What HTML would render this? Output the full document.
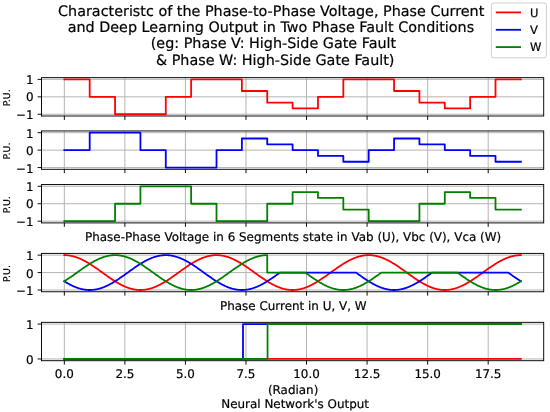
<!DOCTYPE html>
<html><head><meta charset="utf-8"><style>
html,body{margin:0;padding:0;background:#fff;}
svg{display:block;}
text{font-family:"DejaVu Sans","Liberation Sans",sans-serif;fill:#000;text-rendering:geometricPrecision;stroke:#000;stroke-width:0.2px;}
.tk{font-size:11.9px;}
.tt{font-size:14.35px;}
.xl{font-size:11.95px;}
.pu{font-size:9.4px;}
.lg{font-size:11.5px;}
</style></head><body>
<svg width="550" height="412" viewBox="0 0 550 412">
<rect width="550" height="412" fill="#fff"/>
<clipPath id="c0"><rect x="41.5" y="77.65" width="502.2" height="38.35"/></clipPath>
<path d="M64.33 77.65 V116 M124.88 77.65 V116 M185.43 77.65 V116 M245.98 77.65 V116 M306.53 77.65 V116 M367.08 77.65 V116 M427.63 77.65 V116 M488.19 77.65 V116 M41.5 114.26 H543.7 M41.5 96.83 H543.7 M41.5 79.39 H543.7" stroke="#b0b0b0" stroke-width="0.95" fill="none"/>
<g clip-path="url(#c0)">
<path d="M64.33 79.39 L89.69 79.39 L89.69 96.83 L115.05 96.83 L115.05 114.26 L140.42 114.26 L140.42 114.26 L165.78 114.26 L165.78 96.83 L191.15 96.83 L191.15 79.39 L216.51 79.39 L216.51 79.39 L241.87 79.39 L241.87 91.01 L267.24 91.01 L267.24 102.64 L292.6 102.64 L292.6 108.45 L317.96 108.45 L317.96 96.83 L343.33 96.83 L343.33 79.39 L368.69 79.39 L368.69 79.39 L394.05 79.39 L394.05 91.01 L419.42 91.01 L419.42 102.64 L444.78 102.64 L444.78 108.45 L470.15 108.45 L470.15 96.83 L495.51 96.83 L495.51 79.39 L520.87 79.39" fill="none" stroke="#ff0000" stroke-width="1.8" stroke-linejoin="round" stroke-linecap="square"/>
</g>
<rect x="41.5" y="77.65" width="502.2" height="38.35" fill="none" stroke="#000" stroke-width="0.95"/>
<path d="M64.33 116 v3.9 M124.88 116 v3.9 M185.43 116 v3.9 M245.98 116 v3.9 M306.53 116 v3.9 M367.08 116 v3.9 M427.63 116 v3.9 M488.19 116 v3.9 M41.5 114.26 h-3.9 M41.5 96.83 h-3.9 M41.5 79.39 h-3.9" stroke="#000" stroke-width="0.95" fill="none"/>
<text x="33.6" y="118.56" text-anchor="end" class="tk">−1</text>
<text x="33.6" y="101.12" text-anchor="end" class="tk">0</text>
<text x="33.6" y="83.69" text-anchor="end" class="tk">1</text>
<text transform="translate(10 97.83) rotate(-90)" text-anchor="middle" class="pu">P.U.</text>
<clipPath id="c1"><rect x="41.5" y="130.95" width="502.2" height="38.35"/></clipPath>
<path d="M64.33 130.95 V169.3 M124.88 130.95 V169.3 M185.43 130.95 V169.3 M245.98 130.95 V169.3 M306.53 130.95 V169.3 M367.08 130.95 V169.3 M427.63 130.95 V169.3 M488.19 130.95 V169.3 M41.5 167.56 H543.7 M41.5 150.12 H543.7 M41.5 132.69 H543.7" stroke="#b0b0b0" stroke-width="0.95" fill="none"/>
<g clip-path="url(#c1)">
<path d="M64.33 150.12 L89.69 150.12 L89.69 132.69 L115.05 132.69 L115.05 132.69 L140.42 132.69 L140.42 150.12 L165.78 150.12 L165.78 167.56 L191.15 167.56 L191.15 167.56 L216.51 167.56 L216.51 150.12 L241.87 150.12 L241.87 138.5 L267.24 138.5 L267.24 144.31 L292.6 144.31 L292.6 150.12 L317.96 150.12 L317.96 155.94 L343.33 155.94 L343.33 161.75 L368.69 161.75 L368.69 150.12 L394.05 150.12 L394.05 138.5 L419.42 138.5 L419.42 144.31 L444.78 144.31 L444.78 150.12 L470.15 150.12 L470.15 155.94 L495.51 155.94 L495.51 161.75 L520.87 161.75" fill="none" stroke="#0000ff" stroke-width="1.8" stroke-linejoin="round" stroke-linecap="square"/>
</g>
<rect x="41.5" y="130.95" width="502.2" height="38.35" fill="none" stroke="#000" stroke-width="0.95"/>
<path d="M64.33 169.3 v3.9 M124.88 169.3 v3.9 M185.43 169.3 v3.9 M245.98 169.3 v3.9 M306.53 169.3 v3.9 M367.08 169.3 v3.9 M427.63 169.3 v3.9 M488.19 169.3 v3.9 M41.5 167.56 h-3.9 M41.5 150.12 h-3.9 M41.5 132.69 h-3.9" stroke="#000" stroke-width="0.95" fill="none"/>
<text x="33.6" y="172.66" text-anchor="end" class="tk">−1</text>
<text x="33.6" y="155.23" text-anchor="end" class="tk">0</text>
<text x="33.6" y="137.79" text-anchor="end" class="tk">1</text>
<text transform="translate(10 151.12) rotate(-90)" text-anchor="middle" class="pu">P.U.</text>
<clipPath id="c2"><rect x="41.5" y="184.55" width="502.2" height="38.35"/></clipPath>
<path d="M64.33 184.55 V222.9 M124.88 184.55 V222.9 M185.43 184.55 V222.9 M245.98 184.55 V222.9 M306.53 184.55 V222.9 M367.08 184.55 V222.9 M427.63 184.55 V222.9 M488.19 184.55 V222.9 M41.5 221.16 H543.7 M41.5 203.73 H543.7 M41.5 186.29 H543.7" stroke="#b0b0b0" stroke-width="0.95" fill="none"/>
<g clip-path="url(#c2)">
<path d="M64.33 221.16 L89.69 221.16 L89.69 221.16 L115.05 221.16 L115.05 203.73 L140.42 203.73 L140.42 186.29 L165.78 186.29 L165.78 186.29 L191.15 186.29 L191.15 203.73 L216.51 203.73 L216.51 221.16 L241.87 221.16 L241.87 221.16 L267.24 221.16 L267.24 203.73 L292.6 203.73 L292.6 192.1 L317.96 192.1 L317.96 197.91 L343.33 197.91 L343.33 209.54 L368.69 209.54 L368.69 221.16 L394.05 221.16 L394.05 221.16 L419.42 221.16 L419.42 203.73 L444.78 203.73 L444.78 192.1 L470.15 192.1 L470.15 197.91 L495.51 197.91 L495.51 209.54 L520.87 209.54" fill="none" stroke="#008000" stroke-width="1.8" stroke-linejoin="round" stroke-linecap="square"/>
</g>
<rect x="41.5" y="184.55" width="502.2" height="38.35" fill="none" stroke="#000" stroke-width="0.95"/>
<path d="M64.33 222.9 v3.9 M124.88 222.9 v3.9 M185.43 222.9 v3.9 M245.98 222.9 v3.9 M306.53 222.9 v3.9 M367.08 222.9 v3.9 M427.63 222.9 v3.9 M488.19 222.9 v3.9 M41.5 221.16 h-3.9 M41.5 203.73 h-3.9 M41.5 186.29 h-3.9" stroke="#000" stroke-width="0.95" fill="none"/>
<text x="33.6" y="225.76" text-anchor="end" class="tk">−1</text>
<text x="33.6" y="208.33" text-anchor="end" class="tk">0</text>
<text x="33.6" y="190.89" text-anchor="end" class="tk">1</text>
<text transform="translate(10 204.73) rotate(-90)" text-anchor="middle" class="pu">P.U.</text>
<clipPath id="c3"><rect x="41.5" y="253.4" width="502.2" height="38.35"/></clipPath>
<path d="M64.33 253.4 V291.75 M124.88 253.4 V291.75 M185.43 253.4 V291.75 M245.98 253.4 V291.75 M306.53 253.4 V291.75 M367.08 253.4 V291.75 M427.63 253.4 V291.75 M488.19 253.4 V291.75 M41.5 290.01 H543.7 M41.5 272.57 H543.7 M41.5 255.14 H543.7" stroke="#b0b0b0" stroke-width="0.95" fill="none"/>
<g clip-path="url(#c3)">
<path d="M64.33 255.14 L64.71 255.15 L65.09 255.15 L65.47 255.16 L65.85 255.18 L66.23 255.2 L66.61 255.22 L66.99 255.25 L67.37 255.28 L67.75 255.32 L68.13 255.36 L68.52 255.4 L68.9 255.45 L69.28 255.51 L69.66 255.56 L70.04 255.63 L70.42 255.69 L70.8 255.76 L71.18 255.84 L71.56 255.92 L71.94 256 L72.32 256.08 L72.7 256.18 L73.09 256.27 L73.47 256.37 L73.85 256.47 L74.23 256.58 L74.61 256.69 L74.99 256.8 L75.37 256.92 L75.75 257.05 L76.13 257.17 L76.51 257.3 L76.89 257.44 L77.27 257.57 L77.65 257.72 L78.04 257.86 L78.42 258.01 L78.8 258.16 L79.18 258.32 L79.56 258.48 L79.94 258.64 L80.32 258.81 L80.7 258.98 L81.08 259.15 L81.46 259.33 L81.84 259.51 L82.22 259.69 L82.6 259.88 L82.99 260.06 L83.37 260.26 L83.75 260.45 L84.13 260.65 L84.51 260.85 L84.89 261.06 L85.27 261.26 L85.65 261.47 L86.03 261.69 L86.41 261.9 L86.79 262.12 L87.17 262.34 L87.55 262.56 L87.94 262.79 L88.32 263.02 L88.7 263.25 L89.08 263.48 L89.46 263.71 L89.84 263.95 L90.22 264.19 L90.6 264.43 L90.98 264.68 L91.36 264.92 L91.74 265.17 L92.12 265.42 L92.5 265.67 L92.89 265.92 L93.27 266.17 L93.65 266.43 L94.03 266.69 L94.41 266.95 L94.79 267.21 L95.17 267.47 L95.55 267.73 L95.93 267.99 L96.31 268.26 L96.69 268.52 L97.07 268.79 L97.45 269.06 L97.84 269.33 L98.22 269.6 L98.6 269.87 L98.98 270.14 L99.36 270.41 L99.74 270.68 L100.12 270.96 L100.5 271.23 L100.88 271.5 L101.26 271.78 L101.64 272.05 L102.02 272.32 L102.4 272.6 L102.79 272.87 L103.17 273.15 L103.55 273.42 L103.93 273.69 L104.31 273.97 L104.69 274.24 L105.07 274.51 L105.45 274.78 L105.83 275.06 L106.21 275.33 L106.59 275.6 L106.97 275.87 L107.35 276.14 L107.74 276.4 L108.12 276.67 L108.5 276.94 L108.88 277.2 L109.26 277.46 L109.64 277.73 L110.02 277.99 L110.4 278.25 L110.78 278.51 L111.16 278.76 L111.54 279.02 L111.92 279.27 L112.3 279.52 L112.69 279.77 L113.07 280.02 L113.45 280.27 L113.83 280.52 L114.21 280.76 L114.59 281 L114.97 281.24 L115.35 281.47 L115.73 281.71 L116.11 281.94 L116.49 282.17 L116.87 282.4 L117.25 282.62 L117.64 282.85 L118.02 283.07 L118.4 283.28 L118.78 283.5 L119.16 283.71 L119.54 283.92 L119.92 284.13 L120.3 284.33 L120.68 284.53 L121.06 284.73 L121.44 284.93 L121.82 285.12 L122.2 285.31 L122.59 285.49 L122.97 285.67 L123.35 285.85 L123.73 286.03 L124.11 286.2 L124.49 286.37 L124.87 286.54 L125.25 286.7 L125.63 286.86 L126.01 287.01 L126.39 287.17 L126.77 287.31 L127.15 287.46 L127.54 287.6 L127.92 287.74 L128.3 287.87 L128.68 288 L129.06 288.12 L129.44 288.25 L129.82 288.36 L130.2 288.48 L130.58 288.59 L130.96 288.7 L131.34 288.8 L131.72 288.9 L132.1 288.99 L132.49 289.08 L132.87 289.17 L133.25 289.25 L133.63 289.33 L134.01 289.4 L134.39 289.47 L134.77 289.53 L135.15 289.6 L135.53 289.65 L135.91 289.71 L136.29 289.75 L136.67 289.8 L137.05 289.84 L137.44 289.87 L137.82 289.91 L138.2 289.93 L138.58 289.96 L138.96 289.98 L139.34 289.99 L139.72 290 L140.1 290.01 L140.48 290.01 L140.86 290 L141.24 290 L141.62 289.99 L142 289.97 L142.39 289.95 L142.77 289.92 L143.15 289.9 L143.53 289.86 L143.91 289.83 L144.29 289.78 L144.67 289.74 L145.05 289.69 L145.43 289.63 L145.81 289.58 L146.19 289.51 L146.57 289.45 L146.95 289.38 L147.34 289.3 L147.72 289.22 L148.1 289.14 L148.48 289.05 L148.86 288.96 L149.24 288.86 L149.62 288.76 L150 288.66 L150.38 288.55 L150.76 288.44 L151.14 288.33 L151.52 288.21 L151.9 288.08 L152.29 287.96 L152.67 287.83 L153.05 287.69 L153.43 287.55 L153.81 287.41 L154.19 287.26 L154.57 287.11 L154.95 286.96 L155.33 286.81 L155.71 286.65 L156.09 286.48 L156.47 286.31 L156.85 286.14 L157.24 285.97 L157.62 285.79 L158 285.61 L158.38 285.43 L158.76 285.24 L159.14 285.05 L159.52 284.86 L159.9 284.66 L160.28 284.47 L160.66 284.26 L161.04 284.06 L161.42 283.85 L161.8 283.64 L162.19 283.43 L162.57 283.21 L162.95 282.99 L163.33 282.77 L163.71 282.55 L164.09 282.32 L164.47 282.1 L164.85 281.86 L165.23 281.63 L165.61 281.4 L165.99 281.16 L166.37 280.92 L166.75 280.68 L167.14 280.43 L167.52 280.19 L167.9 279.94 L168.28 279.69 L168.66 279.44 L169.04 279.19 L169.42 278.93 L169.8 278.68 L170.18 278.42 L170.56 278.16 L170.94 277.9 L171.32 277.64 L171.7 277.38 L172.09 277.11 L172.47 276.85 L172.85 276.58 L173.23 276.31 L173.61 276.05 L173.99 275.78 L174.37 275.51 L174.75 275.24 L175.13 274.97 L175.51 274.69 L175.89 274.42 L176.27 274.15 L176.65 273.88 L177.04 273.6 L177.42 273.33 L177.8 273.05 L178.18 272.78 L178.56 272.51 L178.94 272.23 L179.32 271.96 L179.7 271.68 L180.08 271.41 L180.46 271.14 L180.84 270.86 L181.22 270.59 L181.61 270.32 L181.99 270.05 L182.37 269.78 L182.75 269.51 L183.13 269.24 L183.51 268.97 L183.89 268.7 L184.27 268.44 L184.65 268.17 L185.03 267.91 L185.41 267.64 L185.79 267.38 L186.17 267.12 L186.56 266.86 L186.94 266.6 L187.32 266.34 L187.7 266.09 L188.08 265.84 L188.46 265.58 L188.84 265.33 L189.22 265.09 L189.6 264.84 L189.98 264.59 L190.36 264.35 L190.74 264.11 L191.12 263.87 L191.51 263.64 L191.89 263.4 L192.27 263.17 L192.65 262.94 L193.03 262.71 L193.41 262.49 L193.79 262.27 L194.17 262.05 L194.55 261.83 L194.93 261.61 L195.31 261.4 L195.69 261.19 L196.07 260.99 L196.46 260.78 L196.84 260.58 L197.22 260.39 L197.6 260.19 L197.98 260 L198.36 259.81 L198.74 259.63 L199.12 259.45 L199.5 259.27 L199.88 259.09 L200.26 258.92 L200.64 258.75 L201.02 258.59 L201.41 258.42 L201.79 258.27 L202.17 258.11 L202.55 257.96 L202.93 257.81 L203.31 257.67 L203.69 257.53 L204.07 257.39 L204.45 257.26 L204.83 257.13 L205.21 257 L205.59 256.88 L205.97 256.77 L206.36 256.65 L206.74 256.54 L207.12 256.44 L207.5 256.34 L207.88 256.24 L208.26 256.14 L208.64 256.06 L209.02 255.97 L209.4 255.89 L209.78 255.81 L210.16 255.74 L210.54 255.67 L210.92 255.6 L211.31 255.54 L211.69 255.49 L212.07 255.44 L212.45 255.39 L212.83 255.34 L213.21 255.3 L213.59 255.27 L213.97 255.24 L214.35 255.21 L214.73 255.19 L215.11 255.17 L215.49 255.16 L215.87 255.15 L216.26 255.14 L216.64 255.14 L217.02 255.15 L217.4 255.15 L217.78 255.17 L218.16 255.18 L218.54 255.2 L218.92 255.23 L219.3 255.26 L219.68 255.29 L220.06 255.33 L220.44 255.37 L220.82 255.42 L221.21 255.47 L221.59 255.52 L221.97 255.58 L222.35 255.65 L222.73 255.71 L223.11 255.79 L223.49 255.86 L223.87 255.94 L224.25 256.03 L224.63 256.11 L225.01 256.21 L225.39 256.3 L225.77 256.4 L226.16 256.51 L226.54 256.62 L226.92 256.73 L227.3 256.84 L227.68 256.96 L228.06 257.09 L228.44 257.22 L228.82 257.35 L229.2 257.48 L229.58 257.62 L229.96 257.76 L230.34 257.91 L230.72 258.06 L231.11 258.21 L231.49 258.37 L231.87 258.53 L232.25 258.7 L232.63 258.86 L233.01 259.03 L233.39 259.21 L233.77 259.39 L234.15 259.57 L234.53 259.75 L234.91 259.94 L235.29 260.13 L235.67 260.32 L236.06 260.52 L236.44 260.72 L236.82 260.92 L237.2 261.13 L237.58 261.33 L237.96 261.54 L238.34 261.76 L238.72 261.97 L239.1 262.19 L239.48 262.41 L239.86 262.64 L240.24 262.86 L240.62 263.09 L241.01 263.32 L241.39 263.56 L241.77 263.79 L242.15 264.03 L242.53 264.27 L242.91 264.51 L243.29 264.76 L243.67 265 L244.05 265.25 L244.43 265.5 L244.81 265.75 L245.19 266 L245.57 266.26 L245.96 266.52 L246.34 266.77 L246.72 267.03 L247.1 267.29 L247.48 267.55 L247.86 267.82 L248.24 268.08 L248.62 268.35 L249 268.61 L249.38 268.88 L249.76 269.15 L250.14 269.42 L250.52 269.69 L250.91 269.96 L251.29 270.23 L251.67 270.5 L252.05 270.77 L252.43 271.05 L252.81 271.32 L253.19 271.59 L253.57 271.87 L253.95 272.14 L254.33 272.42 L254.71 272.69 L255.09 272.96 L255.47 273.24 L255.86 273.51 L256.24 273.78 L256.62 274.06 L257 274.33 L257.38 274.6 L257.76 274.87 L258.14 275.15 L258.52 275.42 L258.9 275.69 L259.28 275.96 L259.66 276.22 L260.04 276.49 L260.42 276.76 L260.81 277.02 L261.19 277.29 L261.57 277.55 L261.95 277.81 L262.33 278.07 L262.71 278.33 L263.09 278.59 L263.47 278.85 L263.85 279.1 L264.23 279.36 L264.61 279.61 L264.99 279.86 L265.37 280.11 L265.76 280.35 L266.14 280.6 L266.52 280.84 L266.9 281.08 L267.28 281.32 L267.66 281.55 L268.04 281.79 L268.42 282.02 L268.8 282.25 L269.18 282.47 L269.56 282.7 L269.94 282.92 L270.32 283.14 L270.71 283.36 L271.09 283.57 L271.47 283.78 L271.85 283.99 L272.23 284.2 L272.61 284.4 L272.99 284.6 L273.37 284.8 L273.75 284.99 L274.13 285.18 L274.51 285.37 L274.89 285.55 L275.27 285.73 L275.66 285.91 L276.04 286.09 L276.42 286.26 L276.8 286.43 L277.18 286.59 L277.56 286.75 L277.94 286.91 L278.32 287.06 L278.7 287.21 L279.08 287.36 L279.46 287.51 L279.84 287.64 L280.22 287.78 L280.61 287.91 L280.99 288.04 L281.37 288.17 L281.75 288.29 L282.13 288.4 L282.51 288.52 L282.89 288.62 L283.27 288.73 L283.65 288.83 L284.03 288.93 L284.41 289.02 L284.79 289.11 L285.17 289.19 L285.56 289.27 L285.94 289.35 L286.32 289.42 L286.7 289.49 L287.08 289.56 L287.46 289.62 L287.84 289.67 L288.22 289.72 L288.6 289.77 L288.98 289.81 L289.36 289.85 L289.74 289.89 L290.12 289.92 L290.51 289.94 L290.89 289.96 L291.27 289.98 L291.65 289.99 L292.03 290 L292.41 290.01 L292.79 290.01 L293.17 290 L293.55 289.99 L293.93 289.98 L294.31 289.96 L294.69 289.94 L295.08 289.92 L295.46 289.89 L295.84 289.85 L296.22 289.81 L296.6 289.77 L296.98 289.72 L297.36 289.67 L297.74 289.62 L298.12 289.56 L298.5 289.49 L298.88 289.42 L299.26 289.35 L299.64 289.27 L300.03 289.19 L300.41 289.11 L300.79 289.02 L301.17 288.93 L301.55 288.83 L301.93 288.73 L302.31 288.62 L302.69 288.52 L303.07 288.4 L303.45 288.29 L303.83 288.17 L304.21 288.04 L304.59 287.91 L304.98 287.78 L305.36 287.64 L305.74 287.51 L306.12 287.36 L306.5 287.21 L306.88 287.06 L307.26 286.91 L307.64 286.75 L308.02 286.59 L308.4 286.43 L308.78 286.26 L309.16 286.09 L309.54 285.91 L309.93 285.73 L310.31 285.55 L310.69 285.37 L311.07 285.18 L311.45 284.99 L311.83 284.8 L312.21 284.6 L312.59 284.4 L312.97 284.2 L313.35 283.99 L313.73 283.78 L314.11 283.57 L314.49 283.36 L314.88 283.14 L315.26 282.92 L315.64 282.7 L316.02 282.47 L316.4 282.25 L316.78 282.02 L317.16 281.79 L317.54 281.55 L317.92 281.32 L318.3 281.08 L318.68 280.84 L319.06 280.6 L319.44 280.35 L319.83 280.11 L320.21 279.86 L320.59 279.61 L320.97 279.36 L321.35 279.1 L321.73 278.85 L322.11 278.59 L322.49 278.33 L322.87 278.07 L323.25 277.81 L323.63 277.55 L324.01 277.29 L324.39 277.02 L324.78 276.76 L325.16 276.49 L325.54 276.22 L325.92 275.96 L326.3 275.69 L326.68 275.42 L327.06 275.15 L327.44 274.87 L327.82 274.6 L328.2 274.33 L328.58 274.06 L328.96 273.78 L329.34 273.51 L329.73 273.24 L330.11 272.96 L330.49 272.69 L330.87 272.42 L331.25 272.14 L331.63 271.87 L332.01 271.59 L332.39 271.32 L332.77 271.05 L333.15 270.77 L333.53 270.5 L333.91 270.23 L334.29 269.96 L334.68 269.69 L335.06 269.42 L335.44 269.15 L335.82 268.88 L336.2 268.61 L336.58 268.35 L336.96 268.08 L337.34 267.82 L337.72 267.55 L338.1 267.29 L338.48 267.03 L338.86 266.77 L339.24 266.52 L339.63 266.26 L340.01 266 L340.39 265.75 L340.77 265.5 L341.15 265.25 L341.53 265 L341.91 264.76 L342.29 264.51 L342.67 264.27 L343.05 264.03 L343.43 263.79 L343.81 263.56 L344.19 263.32 L344.58 263.09 L344.96 262.86 L345.34 262.64 L345.72 262.41 L346.1 262.19 L346.48 261.97 L346.86 261.76 L347.24 261.54 L347.62 261.33 L348 261.13 L348.38 260.92 L348.76 260.72 L349.14 260.52 L349.53 260.32 L349.91 260.13 L350.29 259.94 L350.67 259.75 L351.05 259.57 L351.43 259.39 L351.81 259.21 L352.19 259.03 L352.57 258.86 L352.95 258.7 L353.33 258.53 L353.71 258.37 L354.09 258.21 L354.48 258.06 L354.86 257.91 L355.24 257.76 L355.62 257.62 L356 257.48 L356.38 257.35 L356.76 257.22 L357.14 257.09 L357.52 256.96 L357.9 256.84 L358.28 256.73 L358.66 256.62 L359.04 256.51 L359.43 256.4 L359.81 256.3 L360.19 256.21 L360.57 256.11 L360.95 256.03 L361.33 255.94 L361.71 255.86 L362.09 255.79 L362.47 255.71 L362.85 255.65 L363.23 255.58 L363.61 255.52 L363.99 255.47 L364.38 255.42 L364.76 255.37 L365.14 255.33 L365.52 255.29 L365.9 255.26 L366.28 255.23 L366.66 255.2 L367.04 255.18 L367.42 255.17 L367.8 255.15 L368.18 255.15 L368.56 255.14 L368.94 255.14 L369.33 255.15 L369.71 255.16 L370.09 255.17 L370.47 255.19 L370.85 255.21 L371.23 255.24 L371.61 255.27 L371.99 255.3 L372.37 255.34 L372.75 255.39 L373.13 255.44 L373.51 255.49 L373.89 255.54 L374.28 255.6 L374.66 255.67 L375.04 255.74 L375.42 255.81 L375.8 255.89 L376.18 255.97 L376.56 256.06 L376.94 256.14 L377.32 256.24 L377.7 256.34 L378.08 256.44 L378.46 256.54 L378.84 256.65 L379.23 256.77 L379.61 256.88 L379.99 257 L380.37 257.13 L380.75 257.26 L381.13 257.39 L381.51 257.53 L381.89 257.67 L382.27 257.81 L382.65 257.96 L383.03 258.11 L383.41 258.27 L383.79 258.42 L384.18 258.59 L384.56 258.75 L384.94 258.92 L385.32 259.09 L385.7 259.27 L386.08 259.45 L386.46 259.63 L386.84 259.81 L387.22 260 L387.6 260.19 L387.98 260.39 L388.36 260.58 L388.74 260.78 L389.13 260.99 L389.51 261.19 L389.89 261.4 L390.27 261.61 L390.65 261.83 L391.03 262.05 L391.41 262.27 L391.79 262.49 L392.17 262.71 L392.55 262.94 L392.93 263.17 L393.31 263.4 L393.69 263.64 L394.08 263.87 L394.46 264.11 L394.84 264.35 L395.22 264.59 L395.6 264.84 L395.98 265.09 L396.36 265.33 L396.74 265.58 L397.12 265.84 L397.5 266.09 L397.88 266.34 L398.26 266.6 L398.64 266.86 L399.03 267.12 L399.41 267.38 L399.79 267.64 L400.17 267.91 L400.55 268.17 L400.93 268.44 L401.31 268.7 L401.69 268.97 L402.07 269.24 L402.45 269.51 L402.83 269.78 L403.21 270.05 L403.59 270.32 L403.98 270.59 L404.36 270.86 L404.74 271.14 L405.12 271.41 L405.5 271.68 L405.88 271.96 L406.26 272.23 L406.64 272.51 L407.02 272.78 L407.4 273.05 L407.78 273.33 L408.16 273.6 L408.55 273.88 L408.93 274.15 L409.31 274.42 L409.69 274.69 L410.07 274.97 L410.45 275.24 L410.83 275.51 L411.21 275.78 L411.59 276.05 L411.97 276.31 L412.35 276.58 L412.73 276.85 L413.11 277.11 L413.5 277.38 L413.88 277.64 L414.26 277.9 L414.64 278.16 L415.02 278.42 L415.4 278.68 L415.78 278.93 L416.16 279.19 L416.54 279.44 L416.92 279.69 L417.3 279.94 L417.68 280.19 L418.06 280.43 L418.45 280.68 L418.83 280.92 L419.21 281.16 L419.59 281.4 L419.97 281.63 L420.35 281.86 L420.73 282.1 L421.11 282.32 L421.49 282.55 L421.87 282.77 L422.25 282.99 L422.63 283.21 L423.01 283.43 L423.4 283.64 L423.78 283.85 L424.16 284.06 L424.54 284.26 L424.92 284.47 L425.3 284.66 L425.68 284.86 L426.06 285.05 L426.44 285.24 L426.82 285.43 L427.2 285.61 L427.58 285.79 L427.96 285.97 L428.35 286.14 L428.73 286.31 L429.11 286.48 L429.49 286.65 L429.87 286.81 L430.25 286.96 L430.63 287.11 L431.01 287.26 L431.39 287.41 L431.77 287.55 L432.15 287.69 L432.53 287.83 L432.91 287.96 L433.3 288.08 L433.68 288.21 L434.06 288.33 L434.44 288.44 L434.82 288.55 L435.2 288.66 L435.58 288.76 L435.96 288.86 L436.34 288.96 L436.72 289.05 L437.1 289.14 L437.48 289.22 L437.86 289.3 L438.25 289.38 L438.63 289.45 L439.01 289.51 L439.39 289.58 L439.77 289.63 L440.15 289.69 L440.53 289.74 L440.91 289.78 L441.29 289.83 L441.67 289.86 L442.05 289.9 L442.43 289.92 L442.81 289.95 L443.2 289.97 L443.58 289.99 L443.96 290 L444.34 290 L444.72 290.01 L445.1 290.01 L445.48 290 L445.86 289.99 L446.24 289.98 L446.62 289.96 L447 289.93 L447.38 289.91 L447.76 289.87 L448.15 289.84 L448.53 289.8 L448.91 289.75 L449.29 289.71 L449.67 289.65 L450.05 289.6 L450.43 289.53 L450.81 289.47 L451.19 289.4 L451.57 289.33 L451.95 289.25 L452.33 289.17 L452.71 289.08 L453.1 288.99 L453.48 288.9 L453.86 288.8 L454.24 288.7 L454.62 288.59 L455 288.48 L455.38 288.36 L455.76 288.25 L456.14 288.12 L456.52 288 L456.9 287.87 L457.28 287.74 L457.66 287.6 L458.05 287.46 L458.43 287.31 L458.81 287.17 L459.19 287.01 L459.57 286.86 L459.95 286.7 L460.33 286.54 L460.71 286.37 L461.09 286.2 L461.47 286.03 L461.85 285.85 L462.23 285.67 L462.61 285.49 L463 285.31 L463.38 285.12 L463.76 284.93 L464.14 284.73 L464.52 284.53 L464.9 284.33 L465.28 284.13 L465.66 283.92 L466.04 283.71 L466.42 283.5 L466.8 283.28 L467.18 283.07 L467.56 282.85 L467.95 282.62 L468.33 282.4 L468.71 282.17 L469.09 281.94 L469.47 281.71 L469.85 281.47 L470.23 281.24 L470.61 281 L470.99 280.76 L471.37 280.52 L471.75 280.27 L472.13 280.02 L472.51 279.77 L472.9 279.52 L473.28 279.27 L473.66 279.02 L474.04 278.76 L474.42 278.51 L474.8 278.25 L475.18 277.99 L475.56 277.73 L475.94 277.46 L476.32 277.2 L476.7 276.94 L477.08 276.67 L477.46 276.4 L477.85 276.14 L478.23 275.87 L478.61 275.6 L478.99 275.33 L479.37 275.06 L479.75 274.78 L480.13 274.51 L480.51 274.24 L480.89 273.97 L481.27 273.69 L481.65 273.42 L482.03 273.15 L482.41 272.87 L482.8 272.6 L483.18 272.32 L483.56 272.05 L483.94 271.78 L484.32 271.5 L484.7 271.23 L485.08 270.96 L485.46 270.68 L485.84 270.41 L486.22 270.14 L486.6 269.87 L486.98 269.6 L487.36 269.33 L487.75 269.06 L488.13 268.79 L488.51 268.52 L488.89 268.26 L489.27 267.99 L489.65 267.73 L490.03 267.47 L490.41 267.21 L490.79 266.95 L491.17 266.69 L491.55 266.43 L491.93 266.17 L492.31 265.92 L492.7 265.67 L493.08 265.42 L493.46 265.17 L493.84 264.92 L494.22 264.68 L494.6 264.43 L494.98 264.19 L495.36 263.95 L495.74 263.71 L496.12 263.48 L496.5 263.25 L496.88 263.02 L497.26 262.79 L497.65 262.56 L498.03 262.34 L498.41 262.12 L498.79 261.9 L499.17 261.69 L499.55 261.47 L499.93 261.26 L500.31 261.06 L500.69 260.85 L501.07 260.65 L501.45 260.45 L501.83 260.26 L502.21 260.06 L502.6 259.88 L502.98 259.69 L503.36 259.51 L503.74 259.33 L504.12 259.15 L504.5 258.98 L504.88 258.81 L505.26 258.64 L505.64 258.48 L506.02 258.32 L506.4 258.16 L506.78 258.01 L507.16 257.86 L507.55 257.72 L507.93 257.57 L508.31 257.44 L508.69 257.3 L509.07 257.17 L509.45 257.05 L509.83 256.92 L510.21 256.8 L510.59 256.69 L510.97 256.58 L511.35 256.47 L511.73 256.37 L512.11 256.27 L512.5 256.18 L512.88 256.08 L513.26 256 L513.64 255.92 L514.02 255.84 L514.4 255.76 L514.78 255.69 L515.16 255.63 L515.54 255.56 L515.92 255.51 L516.3 255.45 L516.68 255.4 L517.07 255.36 L517.45 255.32 L517.83 255.28 L518.21 255.25 L518.59 255.22 L518.97 255.2 L519.35 255.18 L519.73 255.16 L520.11 255.15 L520.49 255.15 L520.87 255.14" fill="none" stroke="#ff0000" stroke-width="1.8" stroke-linejoin="round" stroke-linecap="square"/>
<path d="M64.33 281.29 L64.71 281.53 L65.09 281.76 L65.47 281.99 L65.85 282.22 L66.23 282.45 L66.61 282.67 L66.99 282.9 L67.37 283.12 L67.75 283.33 L68.13 283.55 L68.52 283.76 L68.9 283.97 L69.28 284.17 L69.66 284.38 L70.04 284.58 L70.42 284.77 L70.8 284.97 L71.18 285.16 L71.56 285.35 L71.94 285.53 L72.32 285.71 L72.7 285.89 L73.09 286.07 L73.47 286.24 L73.85 286.41 L74.23 286.57 L74.61 286.73 L74.99 286.89 L75.37 287.05 L75.75 287.2 L76.13 287.35 L76.51 287.49 L76.89 287.63 L77.27 287.77 L77.65 287.9 L78.04 288.03 L78.42 288.15 L78.8 288.27 L79.18 288.39 L79.56 288.5 L79.94 288.61 L80.32 288.72 L80.7 288.82 L81.08 288.92 L81.46 289.01 L81.84 289.1 L82.22 289.18 L82.6 289.27 L82.99 289.34 L83.37 289.42 L83.75 289.48 L84.13 289.55 L84.51 289.61 L84.89 289.67 L85.27 289.72 L85.65 289.76 L86.03 289.81 L86.41 289.85 L86.79 289.88 L87.17 289.91 L87.55 289.94 L87.94 289.96 L88.32 289.98 L88.7 289.99 L89.08 290 L89.46 290.01 L89.84 290.01 L90.22 290 L90.6 289.99 L90.98 289.98 L91.36 289.97 L91.74 289.94 L92.12 289.92 L92.5 289.89 L92.89 289.86 L93.27 289.82 L93.65 289.77 L94.03 289.73 L94.41 289.68 L94.79 289.62 L95.17 289.56 L95.55 289.5 L95.93 289.43 L96.31 289.36 L96.69 289.28 L97.07 289.2 L97.45 289.12 L97.84 289.03 L98.22 288.94 L98.6 288.84 L98.98 288.74 L99.36 288.64 L99.74 288.53 L100.12 288.42 L100.5 288.3 L100.88 288.18 L101.26 288.06 L101.64 287.93 L102.02 287.8 L102.4 287.66 L102.79 287.52 L103.17 287.38 L103.55 287.23 L103.93 287.08 L104.31 286.93 L104.69 286.77 L105.07 286.61 L105.45 286.45 L105.83 286.28 L106.21 286.11 L106.59 285.93 L106.97 285.75 L107.35 285.57 L107.74 285.39 L108.12 285.2 L108.5 285.01 L108.88 284.82 L109.26 284.62 L109.64 284.42 L110.02 284.22 L110.4 284.01 L110.78 283.81 L111.16 283.59 L111.54 283.38 L111.92 283.16 L112.3 282.95 L112.69 282.72 L113.07 282.5 L113.45 282.27 L113.83 282.04 L114.21 281.81 L114.59 281.58 L114.97 281.34 L115.35 281.11 L115.73 280.87 L116.11 280.62 L116.49 280.38 L116.87 280.13 L117.25 279.89 L117.64 279.64 L118.02 279.38 L118.4 279.13 L118.78 278.88 L119.16 278.62 L119.54 278.36 L119.92 278.1 L120.3 277.84 L120.68 277.58 L121.06 277.32 L121.44 277.05 L121.82 276.79 L122.2 276.52 L122.59 276.25 L122.97 275.99 L123.35 275.72 L123.73 275.45 L124.11 275.18 L124.49 274.91 L124.87 274.63 L125.25 274.36 L125.63 274.09 L126.01 273.81 L126.39 273.54 L126.77 273.27 L127.15 272.99 L127.54 272.72 L127.92 272.45 L128.3 272.17 L128.68 271.9 L129.06 271.62 L129.44 271.35 L129.82 271.08 L130.2 270.8 L130.58 270.53 L130.96 270.26 L131.34 269.99 L131.72 269.72 L132.1 269.45 L132.49 269.18 L132.87 268.91 L133.25 268.64 L133.63 268.38 L134.01 268.11 L134.39 267.85 L134.77 267.58 L135.15 267.32 L135.53 267.06 L135.91 266.8 L136.29 266.54 L136.67 266.29 L137.05 266.03 L137.44 265.78 L137.82 265.53 L138.2 265.28 L138.58 265.03 L138.96 264.78 L139.34 264.54 L139.72 264.3 L140.1 264.06 L140.48 263.82 L140.86 263.58 L141.24 263.35 L141.62 263.12 L142 262.89 L142.39 262.66 L142.77 262.44 L143.15 262.22 L143.53 262 L143.91 261.78 L144.29 261.57 L144.67 261.36 L145.05 261.15 L145.43 260.94 L145.81 260.74 L146.19 260.54 L146.57 260.34 L146.95 260.15 L147.34 259.96 L147.72 259.77 L148.1 259.59 L148.48 259.41 L148.86 259.23 L149.24 259.05 L149.62 258.88 L150 258.71 L150.38 258.55 L150.76 258.39 L151.14 258.23 L151.52 258.08 L151.9 257.93 L152.29 257.78 L152.67 257.64 L153.05 257.5 L153.43 257.36 L153.81 257.23 L154.19 257.1 L154.57 256.98 L154.95 256.86 L155.33 256.74 L155.71 256.63 L156.09 256.52 L156.47 256.41 L156.85 256.31 L157.24 256.22 L157.62 256.12 L158 256.04 L158.38 255.95 L158.76 255.87 L159.14 255.79 L159.52 255.72 L159.9 255.65 L160.28 255.59 L160.66 255.53 L161.04 255.48 L161.42 255.42 L161.8 255.38 L162.19 255.33 L162.57 255.3 L162.95 255.26 L163.33 255.23 L163.71 255.21 L164.09 255.19 L164.47 255.17 L164.85 255.16 L165.23 255.15 L165.61 255.14 L165.99 255.14 L166.37 255.15 L166.75 255.16 L167.14 255.17 L167.52 255.19 L167.9 255.21 L168.28 255.24 L168.66 255.27 L169.04 255.3 L169.42 255.34 L169.8 255.38 L170.18 255.43 L170.56 255.48 L170.94 255.54 L171.32 255.6 L171.7 255.66 L172.09 255.73 L172.47 255.8 L172.85 255.88 L173.23 255.96 L173.61 256.05 L173.99 256.13 L174.37 256.23 L174.75 256.32 L175.13 256.43 L175.51 256.53 L175.89 256.64 L176.27 256.75 L176.65 256.87 L177.04 256.99 L177.42 257.12 L177.8 257.24 L178.18 257.38 L178.56 257.51 L178.94 257.65 L179.32 257.8 L179.7 257.94 L180.08 258.09 L180.46 258.25 L180.84 258.41 L181.22 258.57 L181.61 258.73 L181.99 258.9 L182.37 259.07 L182.75 259.25 L183.13 259.43 L183.51 259.61 L183.89 259.79 L184.27 259.98 L184.65 260.17 L185.03 260.37 L185.41 260.56 L185.79 260.76 L186.17 260.97 L186.56 261.17 L186.94 261.38 L187.32 261.59 L187.7 261.81 L188.08 262.02 L188.46 262.24 L188.84 262.46 L189.22 262.69 L189.6 262.91 L189.98 263.14 L190.36 263.38 L190.74 263.61 L191.12 263.85 L191.51 264.08 L191.89 264.32 L192.27 264.57 L192.65 264.81 L193.03 265.06 L193.41 265.31 L193.79 265.56 L194.17 265.81 L194.55 266.06 L194.93 266.32 L195.31 266.57 L195.69 266.83 L196.07 267.09 L196.46 267.35 L196.84 267.61 L197.22 267.88 L197.6 268.14 L197.98 268.41 L198.36 268.67 L198.74 268.94 L199.12 269.21 L199.5 269.48 L199.88 269.75 L200.26 270.02 L200.64 270.29 L201.02 270.56 L201.41 270.83 L201.79 271.11 L202.17 271.38 L202.55 271.65 L202.93 271.93 L203.31 272.2 L203.69 272.48 L204.07 272.75 L204.45 273.02 L204.83 273.3 L205.21 273.57 L205.59 273.85 L205.97 274.12 L206.36 274.39 L206.74 274.66 L207.12 274.94 L207.5 275.21 L207.88 275.48 L208.26 275.75 L208.64 276.02 L209.02 276.28 L209.4 276.55 L209.78 276.82 L210.16 277.08 L210.54 277.35 L210.92 277.61 L211.31 277.87 L211.69 278.13 L212.07 278.39 L212.45 278.65 L212.83 278.91 L213.21 279.16 L213.59 279.41 L213.97 279.66 L214.35 279.91 L214.73 280.16 L215.11 280.41 L215.49 280.65 L215.87 280.89 L216.26 281.13 L216.64 281.37 L217.02 281.61 L217.4 281.84 L217.78 282.07 L218.16 282.3 L218.54 282.52 L218.92 282.75 L219.3 282.97 L219.68 283.19 L220.06 283.4 L220.44 283.62 L220.82 283.83 L221.21 284.04 L221.59 284.24 L221.97 284.44 L222.35 284.64 L222.73 284.84 L223.11 285.03 L223.49 285.22 L223.87 285.41 L224.25 285.59 L224.63 285.77 L225.01 285.95 L225.39 286.13 L225.77 286.3 L226.16 286.46 L226.54 286.63 L226.92 286.79 L227.3 286.94 L227.68 287.1 L228.06 287.25 L228.44 287.39 L228.82 287.54 L229.2 287.68 L229.58 287.81 L229.96 287.94 L230.34 288.07 L230.72 288.19 L231.11 288.31 L231.49 288.43 L231.87 288.54 L232.25 288.65 L232.63 288.75 L233.01 288.85 L233.39 288.95 L233.77 289.04 L234.15 289.13 L234.53 289.21 L234.91 289.29 L235.29 289.37 L235.67 289.44 L236.06 289.51 L236.44 289.57 L236.82 289.63 L237.2 289.68 L237.58 289.73 L237.96 289.78 L238.34 289.82 L238.72 289.86 L239.1 289.89 L239.48 289.92 L239.86 289.95 L240.24 289.97 L240.62 289.98 L241.01 290 L241.39 290 L241.77 290.01 L242.15 290.01 L242.53 290 L242.91 289.99 L243.29 289.98 L243.67 289.96 L244.05 289.94 L244.43 289.91 L244.81 289.88 L245.19 289.84 L245.57 289.8 L245.96 289.76 L246.34 289.71 L246.72 289.66 L247.1 289.6 L247.48 289.54 L247.86 289.48 L248.24 289.41 L248.62 289.33 L249 289.26 L249.38 289.18 L249.76 289.09 L250.14 289 L250.52 288.91 L250.91 288.81 L251.29 288.71 L251.67 288.6 L252.05 288.49 L252.43 288.38 L252.81 288.26 L253.19 288.14 L253.57 288.01 L253.95 287.88 L254.33 287.75 L254.71 287.61 L255.09 287.47 L255.47 287.33 L255.86 287.18 L256.24 287.03 L256.62 286.88 L257 286.72 L257.38 286.55 L257.76 286.39 L258.14 286.22 L258.52 286.05 L258.9 285.87 L259.28 285.69 L259.66 285.51 L260.04 285.33 L260.42 285.14 L260.81 284.95 L261.19 284.75 L261.57 284.55 L261.95 284.35 L262.33 284.15 L262.71 283.94 L263.09 283.74 L263.47 283.52 L263.85 283.31 L264.23 283.09 L264.61 282.87 L264.99 282.65 L265.37 282.42 L265.76 282.2 L266.14 281.97 L266.52 281.74 L266.9 281.5 L267.28 281.26 L267.66 281.03 L268.04 280.79 L268.42 280.54 L268.8 280.3 L269.18 280.05 L269.56 279.8 L269.94 279.55 L270.32 279.3 L270.71 279.05 L271.09 278.79 L271.47 278.53 L271.85 278.28 L272.23 278.02 L272.61 277.76 L272.99 277.49 L273.37 277.23 L273.75 276.97 L274.13 276.7 L274.51 276.43 L274.89 276.17 L275.27 275.9 L275.66 275.63 L276.04 275.36 L276.42 275.09 L276.8 274.81 L277.18 274.54 L277.56 274.27 L277.94 274 L278.32 273.72 L278.7 273.45 L279.08 273.18 L279.46 272.9 L279.84 272.63 L280.22 272.57 L280.61 272.57 L280.99 272.57 L281.37 272.57 L281.75 272.57 L282.13 272.57 L282.51 272.57 L282.89 272.57 L283.27 272.57 L283.65 272.57 L284.03 272.57 L284.41 272.57 L284.79 272.57 L285.17 272.57 L285.56 272.57 L285.94 272.57 L286.32 272.57 L286.7 272.57 L287.08 272.57 L287.46 272.57 L287.84 272.57 L288.22 272.57 L288.6 272.57 L288.98 272.57 L289.36 272.57 L289.74 272.57 L290.12 272.57 L290.51 272.57 L290.89 272.57 L291.27 272.57 L291.65 272.57 L292.03 272.57 L292.41 272.57 L292.79 272.57 L293.17 272.57 L293.55 272.57 L293.93 272.57 L294.31 272.57 L294.69 272.57 L295.08 272.57 L295.46 272.57 L295.84 272.57 L296.22 272.57 L296.6 272.57 L296.98 272.57 L297.36 272.57 L297.74 272.57 L298.12 272.57 L298.5 272.57 L298.88 272.57 L299.26 272.57 L299.64 272.57 L300.03 272.57 L300.41 272.57 L300.79 272.57 L301.17 272.57 L301.55 272.57 L301.93 272.57 L302.31 272.57 L302.69 272.57 L303.07 272.57 L303.45 272.57 L303.83 272.57 L304.21 272.57 L304.59 272.57 L304.98 272.57 L305.36 272.57 L305.74 272.57 L306.12 272.57 L306.5 272.57 L306.88 272.57 L307.26 272.57 L307.64 272.57 L308.02 272.57 L308.4 272.57 L308.78 272.57 L309.16 272.57 L309.54 272.57 L309.93 272.57 L310.31 272.57 L310.69 272.57 L311.07 272.57 L311.45 272.57 L311.83 272.57 L312.21 272.57 L312.59 272.57 L312.97 272.57 L313.35 272.57 L313.73 272.57 L314.11 272.57 L314.49 272.57 L314.88 272.57 L315.26 272.57 L315.64 272.57 L316.02 272.57 L316.4 272.57 L316.78 272.57 L317.16 272.57 L317.54 272.57 L317.92 272.57 L318.3 272.57 L318.68 272.57 L319.06 272.57 L319.44 272.57 L319.83 272.57 L320.21 272.57 L320.59 272.57 L320.97 272.57 L321.35 272.57 L321.73 272.57 L322.11 272.57 L322.49 272.57 L322.87 272.57 L323.25 272.57 L323.63 272.57 L324.01 272.57 L324.39 272.57 L324.78 272.57 L325.16 272.57 L325.54 272.57 L325.92 272.57 L326.3 272.57 L326.68 272.57 L327.06 272.57 L327.44 272.57 L327.82 272.57 L328.2 272.57 L328.58 272.57 L328.96 272.57 L329.34 272.57 L329.73 272.57 L330.11 272.57 L330.49 272.57 L330.87 272.57 L331.25 272.57 L331.63 272.57 L332.01 272.57 L332.39 272.57 L332.77 272.57 L333.15 272.57 L333.53 272.57 L333.91 272.57 L334.29 272.57 L334.68 272.57 L335.06 272.57 L335.44 272.57 L335.82 272.57 L336.2 272.57 L336.58 272.57 L336.96 272.57 L337.34 272.57 L337.72 272.57 L338.1 272.57 L338.48 272.57 L338.86 272.57 L339.24 272.57 L339.63 272.57 L340.01 272.57 L340.39 272.57 L340.77 272.57 L341.15 272.57 L341.53 272.57 L341.91 272.57 L342.29 272.57 L342.67 272.57 L343.05 272.57 L343.43 272.57 L343.81 272.57 L344.19 272.57 L344.58 272.57 L344.96 272.57 L345.34 272.57 L345.72 272.57 L346.1 272.57 L346.48 272.57 L346.86 272.57 L347.24 272.57 L347.62 272.57 L348 272.57 L348.38 272.57 L348.76 272.57 L349.14 272.57 L349.53 272.57 L349.91 272.57 L350.29 272.57 L350.67 272.57 L351.05 272.57 L351.43 272.57 L351.81 272.57 L352.19 272.57 L352.57 272.57 L352.95 272.57 L353.33 272.57 L353.71 272.57 L354.09 272.57 L354.48 272.57 L354.86 272.57 L355.24 272.57 L355.62 272.57 L356 272.57 L356.38 272.84 L356.76 273.12 L357.14 273.39 L357.52 273.66 L357.9 273.94 L358.28 274.21 L358.66 274.48 L359.04 274.75 L359.43 275.03 L359.81 275.3 L360.19 275.57 L360.57 275.84 L360.95 276.11 L361.33 276.37 L361.71 276.64 L362.09 276.91 L362.47 277.17 L362.85 277.43 L363.23 277.7 L363.61 277.96 L363.99 278.22 L364.38 278.48 L364.76 278.73 L365.14 278.99 L365.52 279.24 L365.9 279.5 L366.28 279.75 L366.66 280 L367.04 280.24 L367.42 280.49 L367.8 280.73 L368.18 280.97 L368.56 281.21 L368.94 281.45 L369.33 281.68 L369.71 281.92 L370.09 282.15 L370.47 282.37 L370.85 282.6 L371.23 282.82 L371.61 283.04 L371.99 283.26 L372.37 283.48 L372.75 283.69 L373.13 283.9 L373.51 284.11 L373.89 284.31 L374.28 284.51 L374.66 284.71 L375.04 284.9 L375.42 285.1 L375.8 285.29 L376.18 285.47 L376.56 285.65 L376.94 285.83 L377.32 286.01 L377.7 286.18 L378.08 286.35 L378.46 286.52 L378.84 286.68 L379.23 286.84 L379.61 287 L379.99 287.15 L380.37 287.3 L380.75 287.44 L381.13 287.58 L381.51 287.72 L381.89 287.85 L382.27 287.98 L382.65 288.11 L383.03 288.23 L383.41 288.35 L383.79 288.47 L384.18 288.58 L384.56 288.68 L384.94 288.79 L385.32 288.89 L385.7 288.98 L386.08 289.07 L386.46 289.16 L386.84 289.24 L387.22 289.32 L387.6 289.39 L387.98 289.46 L388.36 289.53 L388.74 289.59 L389.13 289.65 L389.51 289.7 L389.89 289.75 L390.27 289.79 L390.65 289.83 L391.03 289.87 L391.41 289.9 L391.79 289.93 L392.17 289.95 L392.55 289.97 L392.93 289.99 L393.31 290 L393.69 290 L394.08 290.01 L394.46 290 L394.84 290 L395.22 289.99 L395.6 289.97 L395.98 289.95 L396.36 289.93 L396.74 289.9 L397.12 289.87 L397.5 289.83 L397.88 289.79 L398.26 289.74 L398.64 289.69 L399.03 289.64 L399.41 289.58 L399.79 289.52 L400.17 289.45 L400.55 289.38 L400.93 289.31 L401.31 289.23 L401.69 289.15 L402.07 289.06 L402.45 288.97 L402.83 288.87 L403.21 288.78 L403.59 288.67 L403.98 288.56 L404.36 288.45 L404.74 288.34 L405.12 288.22 L405.5 288.1 L405.88 287.97 L406.26 287.84 L406.64 287.71 L407.02 287.57 L407.4 287.43 L407.78 287.28 L408.16 287.13 L408.55 286.98 L408.93 286.82 L409.31 286.66 L409.69 286.5 L410.07 286.33 L410.45 286.16 L410.83 285.99 L411.21 285.81 L411.59 285.63 L411.97 285.45 L412.35 285.26 L412.73 285.07 L413.11 284.88 L413.5 284.69 L413.88 284.49 L414.26 284.29 L414.64 284.08 L415.02 283.87 L415.4 283.66 L415.78 283.45 L416.16 283.24 L416.54 283.02 L416.92 282.8 L417.3 282.57 L417.68 282.35 L418.06 282.12 L418.45 281.89 L418.83 281.66 L419.21 281.42 L419.59 281.19 L419.97 280.95 L420.35 280.7 L420.73 280.46 L421.11 280.22 L421.49 279.97 L421.87 279.72 L422.25 279.47 L422.63 279.22 L423.01 278.96 L423.4 278.71 L423.78 278.45 L424.16 278.19 L424.54 277.93 L424.92 277.67 L425.3 277.41 L425.68 277.14 L426.06 276.88 L426.44 276.61 L426.82 276.34 L427.2 276.08 L427.58 275.81 L427.96 275.54 L428.35 275.27 L428.73 275 L429.11 274.72 L429.49 274.45 L429.87 274.18 L430.25 273.91 L430.63 273.63 L431.01 273.36 L431.39 273.08 L431.77 272.81 L432.15 272.57 L432.53 272.57 L432.91 272.57 L433.3 272.57 L433.68 272.57 L434.06 272.57 L434.44 272.57 L434.82 272.57 L435.2 272.57 L435.58 272.57 L435.96 272.57 L436.34 272.57 L436.72 272.57 L437.1 272.57 L437.48 272.57 L437.86 272.57 L438.25 272.57 L438.63 272.57 L439.01 272.57 L439.39 272.57 L439.77 272.57 L440.15 272.57 L440.53 272.57 L440.91 272.57 L441.29 272.57 L441.67 272.57 L442.05 272.57 L442.43 272.57 L442.81 272.57 L443.2 272.57 L443.58 272.57 L443.96 272.57 L444.34 272.57 L444.72 272.57 L445.1 272.57 L445.48 272.57 L445.86 272.57 L446.24 272.57 L446.62 272.57 L447 272.57 L447.38 272.57 L447.76 272.57 L448.15 272.57 L448.53 272.57 L448.91 272.57 L449.29 272.57 L449.67 272.57 L450.05 272.57 L450.43 272.57 L450.81 272.57 L451.19 272.57 L451.57 272.57 L451.95 272.57 L452.33 272.57 L452.71 272.57 L453.1 272.57 L453.48 272.57 L453.86 272.57 L454.24 272.57 L454.62 272.57 L455 272.57 L455.38 272.57 L455.76 272.57 L456.14 272.57 L456.52 272.57 L456.9 272.57 L457.28 272.57 L457.66 272.57 L458.05 272.57 L458.43 272.57 L458.81 272.57 L459.19 272.57 L459.57 272.57 L459.95 272.57 L460.33 272.57 L460.71 272.57 L461.09 272.57 L461.47 272.57 L461.85 272.57 L462.23 272.57 L462.61 272.57 L463 272.57 L463.38 272.57 L463.76 272.57 L464.14 272.57 L464.52 272.57 L464.9 272.57 L465.28 272.57 L465.66 272.57 L466.04 272.57 L466.42 272.57 L466.8 272.57 L467.18 272.57 L467.56 272.57 L467.95 272.57 L468.33 272.57 L468.71 272.57 L469.09 272.57 L469.47 272.57 L469.85 272.57 L470.23 272.57 L470.61 272.57 L470.99 272.57 L471.37 272.57 L471.75 272.57 L472.13 272.57 L472.51 272.57 L472.9 272.57 L473.28 272.57 L473.66 272.57 L474.04 272.57 L474.42 272.57 L474.8 272.57 L475.18 272.57 L475.56 272.57 L475.94 272.57 L476.32 272.57 L476.7 272.57 L477.08 272.57 L477.46 272.57 L477.85 272.57 L478.23 272.57 L478.61 272.57 L478.99 272.57 L479.37 272.57 L479.75 272.57 L480.13 272.57 L480.51 272.57 L480.89 272.57 L481.27 272.57 L481.65 272.57 L482.03 272.57 L482.41 272.57 L482.8 272.57 L483.18 272.57 L483.56 272.57 L483.94 272.57 L484.32 272.57 L484.7 272.57 L485.08 272.57 L485.46 272.57 L485.84 272.57 L486.22 272.57 L486.6 272.57 L486.98 272.57 L487.36 272.57 L487.75 272.57 L488.13 272.57 L488.51 272.57 L488.89 272.57 L489.27 272.57 L489.65 272.57 L490.03 272.57 L490.41 272.57 L490.79 272.57 L491.17 272.57 L491.55 272.57 L491.93 272.57 L492.31 272.57 L492.7 272.57 L493.08 272.57 L493.46 272.57 L493.84 272.57 L494.22 272.57 L494.6 272.57 L494.98 272.57 L495.36 272.57 L495.74 272.57 L496.12 272.57 L496.5 272.57 L496.88 272.57 L497.26 272.57 L497.65 272.57 L498.03 272.57 L498.41 272.57 L498.79 272.57 L499.17 272.57 L499.55 272.57 L499.93 272.57 L500.31 272.57 L500.69 272.57 L501.07 272.57 L501.45 272.57 L501.83 272.57 L502.21 272.57 L502.6 272.57 L502.98 272.57 L503.36 272.57 L503.74 272.57 L504.12 272.57 L504.5 272.57 L504.88 272.57 L505.26 272.57 L505.64 272.57 L506.02 272.57 L506.4 272.57 L506.78 272.57 L507.16 272.57 L507.55 272.57 L507.93 272.57 L508.31 272.66 L508.69 272.93 L509.07 273.21 L509.45 273.48 L509.83 273.75 L510.21 274.03 L510.59 274.3 L510.97 274.57 L511.35 274.84 L511.73 275.12 L512.11 275.39 L512.5 275.66 L512.88 275.93 L513.26 276.19 L513.64 276.46 L514.02 276.73 L514.4 276.99 L514.78 277.26 L515.16 277.52 L515.54 277.78 L515.92 278.05 L516.3 278.31 L516.68 278.56 L517.07 278.82 L517.45 279.07 L517.83 279.33 L518.21 279.58 L518.59 279.83 L518.97 280.08 L519.35 280.32 L519.73 280.57 L520.11 280.81 L520.49 281.05 L520.87 281.29" fill="none" stroke="#0000ff" stroke-width="1.8" stroke-linejoin="round" stroke-linecap="square"/>
<path d="M64.33 281.29 L64.71 281.05 L65.09 280.81 L65.47 280.57 L65.85 280.32 L66.23 280.08 L66.61 279.83 L66.99 279.58 L67.37 279.33 L67.75 279.07 L68.13 278.82 L68.52 278.56 L68.9 278.31 L69.28 278.05 L69.66 277.78 L70.04 277.52 L70.42 277.26 L70.8 276.99 L71.18 276.73 L71.56 276.46 L71.94 276.19 L72.32 275.93 L72.7 275.66 L73.09 275.39 L73.47 275.12 L73.85 274.84 L74.23 274.57 L74.61 274.3 L74.99 274.03 L75.37 273.75 L75.75 273.48 L76.13 273.21 L76.51 272.93 L76.89 272.66 L77.27 272.38 L77.65 272.11 L78.04 271.84 L78.42 271.56 L78.8 271.29 L79.18 271.02 L79.56 270.74 L79.94 270.47 L80.32 270.2 L80.7 269.93 L81.08 269.66 L81.46 269.39 L81.84 269.12 L82.22 268.85 L82.6 268.58 L82.99 268.32 L83.37 268.05 L83.75 267.79 L84.13 267.53 L84.51 267.26 L84.89 267 L85.27 266.74 L85.65 266.49 L86.03 266.23 L86.41 265.98 L86.79 265.72 L87.17 265.47 L87.55 265.22 L87.94 264.98 L88.32 264.73 L88.7 264.49 L89.08 264.24 L89.46 264 L89.84 263.77 L90.22 263.53 L90.6 263.3 L90.98 263.07 L91.36 262.84 L91.74 262.61 L92.12 262.39 L92.5 262.17 L92.89 261.95 L93.27 261.73 L93.65 261.52 L94.03 261.31 L94.41 261.1 L94.79 260.9 L95.17 260.7 L95.55 260.5 L95.93 260.3 L96.31 260.11 L96.69 259.92 L97.07 259.73 L97.45 259.55 L97.84 259.37 L98.22 259.19 L98.6 259.02 L98.98 258.84 L99.36 258.68 L99.74 258.51 L100.12 258.35 L100.5 258.2 L100.88 258.04 L101.26 257.89 L101.64 257.75 L102.02 257.61 L102.4 257.47 L102.79 257.33 L103.17 257.2 L103.55 257.07 L103.93 256.95 L104.31 256.83 L104.69 256.72 L105.07 256.6 L105.45 256.5 L105.83 256.39 L106.21 256.29 L106.59 256.2 L106.97 256.1 L107.35 256.02 L107.74 255.93 L108.12 255.85 L108.5 255.78 L108.88 255.71 L109.26 255.64 L109.64 255.58 L110.02 255.52 L110.4 255.46 L110.78 255.41 L111.16 255.37 L111.54 255.33 L111.92 255.29 L112.3 255.26 L112.69 255.23 L113.07 255.2 L113.45 255.18 L113.83 255.17 L114.21 255.15 L114.59 255.15 L114.97 255.14 L115.35 255.14 L115.73 255.15 L116.11 255.16 L116.49 255.17 L116.87 255.19 L117.25 255.22 L117.64 255.24 L118.02 255.27 L118.4 255.31 L118.78 255.35 L119.16 255.39 L119.54 255.44 L119.92 255.49 L120.3 255.55 L120.68 255.61 L121.06 255.68 L121.44 255.75 L121.82 255.82 L122.2 255.9 L122.59 255.98 L122.97 256.06 L123.35 256.15 L123.73 256.25 L124.11 256.35 L124.49 256.45 L124.87 256.56 L125.25 256.67 L125.63 256.78 L126.01 256.9 L126.39 257.02 L126.77 257.14 L127.15 257.27 L127.54 257.41 L127.92 257.54 L128.3 257.68 L128.68 257.83 L129.06 257.98 L129.44 258.13 L129.82 258.28 L130.2 258.44 L130.58 258.6 L130.96 258.77 L131.34 258.94 L131.72 259.11 L132.1 259.29 L132.49 259.47 L132.87 259.65 L133.25 259.83 L133.63 260.02 L134.01 260.21 L134.39 260.41 L134.77 260.61 L135.15 260.81 L135.53 261.01 L135.91 261.22 L136.29 261.43 L136.67 261.64 L137.05 261.85 L137.44 262.07 L137.82 262.29 L138.2 262.51 L138.58 262.74 L138.96 262.97 L139.34 263.2 L139.72 263.43 L140.1 263.66 L140.48 263.9 L140.86 264.14 L141.24 264.38 L141.62 264.62 L142 264.87 L142.39 265.11 L142.77 265.36 L143.15 265.61 L143.53 265.86 L143.91 266.12 L144.29 266.37 L144.67 266.63 L145.05 266.89 L145.43 267.15 L145.81 267.41 L146.19 267.67 L146.57 267.93 L146.95 268.2 L147.34 268.47 L147.72 268.73 L148.1 269 L148.48 269.27 L148.86 269.54 L149.24 269.81 L149.62 270.08 L150 270.35 L150.38 270.62 L150.76 270.9 L151.14 271.17 L151.52 271.44 L151.9 271.72 L152.29 271.99 L152.67 272.26 L153.05 272.54 L153.43 272.81 L153.81 273.08 L154.19 273.36 L154.57 273.63 L154.95 273.91 L155.33 274.18 L155.71 274.45 L156.09 274.72 L156.47 275 L156.85 275.27 L157.24 275.54 L157.62 275.81 L158 276.08 L158.38 276.34 L158.76 276.61 L159.14 276.88 L159.52 277.14 L159.9 277.41 L160.28 277.67 L160.66 277.93 L161.04 278.19 L161.42 278.45 L161.8 278.71 L162.19 278.96 L162.57 279.22 L162.95 279.47 L163.33 279.72 L163.71 279.97 L164.09 280.22 L164.47 280.46 L164.85 280.7 L165.23 280.95 L165.61 281.19 L165.99 281.42 L166.37 281.66 L166.75 281.89 L167.14 282.12 L167.52 282.35 L167.9 282.57 L168.28 282.8 L168.66 283.02 L169.04 283.24 L169.42 283.45 L169.8 283.66 L170.18 283.87 L170.56 284.08 L170.94 284.29 L171.32 284.49 L171.7 284.69 L172.09 284.88 L172.47 285.07 L172.85 285.26 L173.23 285.45 L173.61 285.63 L173.99 285.81 L174.37 285.99 L174.75 286.16 L175.13 286.33 L175.51 286.5 L175.89 286.66 L176.27 286.82 L176.65 286.98 L177.04 287.13 L177.42 287.28 L177.8 287.43 L178.18 287.57 L178.56 287.71 L178.94 287.84 L179.32 287.97 L179.7 288.1 L180.08 288.22 L180.46 288.34 L180.84 288.45 L181.22 288.56 L181.61 288.67 L181.99 288.78 L182.37 288.87 L182.75 288.97 L183.13 289.06 L183.51 289.15 L183.89 289.23 L184.27 289.31 L184.65 289.38 L185.03 289.45 L185.41 289.52 L185.79 289.58 L186.17 289.64 L186.56 289.69 L186.94 289.74 L187.32 289.79 L187.7 289.83 L188.08 289.87 L188.46 289.9 L188.84 289.93 L189.22 289.95 L189.6 289.97 L189.98 289.99 L190.36 290 L190.74 290 L191.12 290.01 L191.51 290 L191.89 290 L192.27 289.99 L192.65 289.97 L193.03 289.95 L193.41 289.93 L193.79 289.9 L194.17 289.87 L194.55 289.83 L194.93 289.79 L195.31 289.75 L195.69 289.7 L196.07 289.65 L196.46 289.59 L196.84 289.53 L197.22 289.46 L197.6 289.39 L197.98 289.32 L198.36 289.24 L198.74 289.16 L199.12 289.07 L199.5 288.98 L199.88 288.89 L200.26 288.79 L200.64 288.68 L201.02 288.58 L201.41 288.47 L201.79 288.35 L202.17 288.23 L202.55 288.11 L202.93 287.98 L203.31 287.85 L203.69 287.72 L204.07 287.58 L204.45 287.44 L204.83 287.3 L205.21 287.15 L205.59 287 L205.97 286.84 L206.36 286.68 L206.74 286.52 L207.12 286.35 L207.5 286.18 L207.88 286.01 L208.26 285.83 L208.64 285.65 L209.02 285.47 L209.4 285.29 L209.78 285.1 L210.16 284.9 L210.54 284.71 L210.92 284.51 L211.31 284.31 L211.69 284.11 L212.07 283.9 L212.45 283.69 L212.83 283.48 L213.21 283.26 L213.59 283.04 L213.97 282.82 L214.35 282.6 L214.73 282.37 L215.11 282.15 L215.49 281.92 L215.87 281.68 L216.26 281.45 L216.64 281.21 L217.02 280.97 L217.4 280.73 L217.78 280.49 L218.16 280.24 L218.54 280 L218.92 279.75 L219.3 279.5 L219.68 279.24 L220.06 278.99 L220.44 278.73 L220.82 278.48 L221.21 278.22 L221.59 277.96 L221.97 277.7 L222.35 277.43 L222.73 277.17 L223.11 276.91 L223.49 276.64 L223.87 276.37 L224.25 276.11 L224.63 275.84 L225.01 275.57 L225.39 275.3 L225.77 275.03 L226.16 274.75 L226.54 274.48 L226.92 274.21 L227.3 273.94 L227.68 273.66 L228.06 273.39 L228.44 273.12 L228.82 272.84 L229.2 272.57 L229.58 272.29 L229.96 272.02 L230.34 271.75 L230.72 271.47 L231.11 271.2 L231.49 270.93 L231.87 270.65 L232.25 270.38 L232.63 270.11 L233.01 269.84 L233.39 269.57 L233.77 269.3 L234.15 269.03 L234.53 268.76 L234.91 268.49 L235.29 268.23 L235.67 267.96 L236.06 267.7 L236.44 267.44 L236.82 267.18 L237.2 266.92 L237.58 266.66 L237.96 266.4 L238.34 266.15 L238.72 265.89 L239.1 265.64 L239.48 265.39 L239.86 265.14 L240.24 264.89 L240.62 264.65 L241.01 264.41 L241.39 264.16 L241.77 263.93 L242.15 263.69 L242.53 263.45 L242.91 263.22 L243.29 262.99 L243.67 262.76 L244.05 262.54 L244.43 262.32 L244.81 262.1 L245.19 261.88 L245.57 261.66 L245.96 261.45 L246.34 261.24 L246.72 261.03 L247.1 260.83 L247.48 260.63 L247.86 260.43 L248.24 260.24 L248.62 260.04 L249 259.85 L249.38 259.67 L249.76 259.49 L250.14 259.31 L250.52 259.13 L250.91 258.96 L251.29 258.79 L251.67 258.62 L252.05 258.46 L252.43 258.3 L252.81 258.15 L253.19 257.99 L253.57 257.84 L253.95 257.7 L254.33 257.56 L254.71 257.42 L255.09 257.29 L255.47 257.16 L255.86 257.03 L256.24 256.91 L256.62 256.79 L257 256.68 L257.38 256.57 L257.76 256.46 L258.14 256.36 L258.52 256.26 L258.9 256.17 L259.28 256.07 L259.66 255.99 L260.04 255.91 L260.42 255.83 L260.81 255.75 L261.19 255.68 L261.57 255.62 L261.95 255.56 L262.33 255.5 L262.71 255.45 L263.09 255.4 L263.47 255.35 L263.85 255.31 L264.23 255.28 L264.61 255.25 L264.99 255.22 L265.37 255.19 L265.76 255.18 L266.14 255.16 L266.52 255.15 L266.9 255.14 L267.24 255.14 L267.24 272.57 L267.28 272.57 L267.66 272.57 L268.04 272.57 L268.42 272.57 L268.8 272.57 L269.18 272.57 L269.56 272.57 L269.94 272.57 L270.32 272.57 L270.71 272.57 L271.09 272.57 L271.47 272.57 L271.85 272.57 L272.23 272.57 L272.61 272.57 L272.99 272.57 L273.37 272.57 L273.75 272.57 L274.13 272.57 L274.51 272.57 L274.89 272.57 L275.27 272.57 L275.66 272.57 L276.04 272.57 L276.42 272.57 L276.8 272.57 L277.18 272.57 L277.56 272.57 L277.94 272.57 L278.32 272.57 L278.7 272.57 L279.08 272.57 L279.46 272.57 L279.84 272.57 L280.22 272.57 L280.61 272.57 L280.99 272.57 L281.37 272.57 L281.75 272.57 L282.13 272.57 L282.51 272.57 L282.89 272.57 L283.27 272.57 L283.65 272.57 L284.03 272.57 L284.41 272.57 L284.79 272.57 L285.17 272.57 L285.56 272.57 L285.94 272.57 L286.32 272.57 L286.7 272.57 L287.08 272.57 L287.46 272.57 L287.84 272.57 L288.22 272.57 L288.6 272.57 L288.98 272.57 L289.36 272.57 L289.74 272.57 L290.12 272.57 L290.51 272.57 L290.89 272.57 L291.27 272.57 L291.65 272.57 L292.03 272.57 L292.41 272.57 L292.79 272.57 L293.17 272.57 L293.55 272.57 L293.93 272.57 L294.31 272.57 L294.69 272.57 L295.08 272.57 L295.46 272.57 L295.84 272.57 L296.22 272.57 L296.6 272.57 L296.98 272.57 L297.36 272.57 L297.74 272.57 L298.12 272.57 L298.5 272.57 L298.88 272.57 L299.26 272.57 L299.64 272.57 L300.03 272.57 L300.41 272.57 L300.79 272.57 L301.17 272.57 L301.55 272.57 L301.93 272.57 L302.31 272.57 L302.69 272.57 L303.07 272.57 L303.45 272.57 L303.83 272.57 L304.21 272.57 L304.59 272.57 L304.98 272.57 L305.36 272.63 L305.74 272.9 L306.12 273.18 L306.5 273.45 L306.88 273.72 L307.26 274 L307.64 274.27 L308.02 274.54 L308.4 274.81 L308.78 275.09 L309.16 275.36 L309.54 275.63 L309.93 275.9 L310.31 276.17 L310.69 276.43 L311.07 276.7 L311.45 276.97 L311.83 277.23 L312.21 277.49 L312.59 277.76 L312.97 278.02 L313.35 278.28 L313.73 278.53 L314.11 278.79 L314.49 279.05 L314.88 279.3 L315.26 279.55 L315.64 279.8 L316.02 280.05 L316.4 280.3 L316.78 280.54 L317.16 280.79 L317.54 281.03 L317.92 281.26 L318.3 281.5 L318.68 281.74 L319.06 281.97 L319.44 282.2 L319.83 282.42 L320.21 282.65 L320.59 282.87 L320.97 283.09 L321.35 283.31 L321.73 283.52 L322.11 283.74 L322.49 283.94 L322.87 284.15 L323.25 284.35 L323.63 284.55 L324.01 284.75 L324.39 284.95 L324.78 285.14 L325.16 285.33 L325.54 285.51 L325.92 285.69 L326.3 285.87 L326.68 286.05 L327.06 286.22 L327.44 286.39 L327.82 286.55 L328.2 286.72 L328.58 286.88 L328.96 287.03 L329.34 287.18 L329.73 287.33 L330.11 287.47 L330.49 287.61 L330.87 287.75 L331.25 287.88 L331.63 288.01 L332.01 288.14 L332.39 288.26 L332.77 288.38 L333.15 288.49 L333.53 288.6 L333.91 288.71 L334.29 288.81 L334.68 288.91 L335.06 289 L335.44 289.09 L335.82 289.18 L336.2 289.26 L336.58 289.33 L336.96 289.41 L337.34 289.48 L337.72 289.54 L338.1 289.6 L338.48 289.66 L338.86 289.71 L339.24 289.76 L339.63 289.8 L340.01 289.84 L340.39 289.88 L340.77 289.91 L341.15 289.94 L341.53 289.96 L341.91 289.98 L342.29 289.99 L342.67 290 L343.05 290.01 L343.43 290.01 L343.81 290 L344.19 290 L344.58 289.98 L344.96 289.97 L345.34 289.95 L345.72 289.92 L346.1 289.89 L346.48 289.86 L346.86 289.82 L347.24 289.78 L347.62 289.73 L348 289.68 L348.38 289.63 L348.76 289.57 L349.14 289.51 L349.53 289.44 L349.91 289.37 L350.29 289.29 L350.67 289.21 L351.05 289.13 L351.43 289.04 L351.81 288.95 L352.19 288.85 L352.57 288.75 L352.95 288.65 L353.33 288.54 L353.71 288.43 L354.09 288.31 L354.48 288.19 L354.86 288.07 L355.24 287.94 L355.62 287.81 L356 287.68 L356.38 287.54 L356.76 287.39 L357.14 287.25 L357.52 287.1 L357.9 286.94 L358.28 286.79 L358.66 286.63 L359.04 286.46 L359.43 286.3 L359.81 286.13 L360.19 285.95 L360.57 285.77 L360.95 285.59 L361.33 285.41 L361.71 285.22 L362.09 285.03 L362.47 284.84 L362.85 284.64 L363.23 284.44 L363.61 284.24 L363.99 284.04 L364.38 283.83 L364.76 283.62 L365.14 283.4 L365.52 283.19 L365.9 282.97 L366.28 282.75 L366.66 282.52 L367.04 282.3 L367.42 282.07 L367.8 281.84 L368.18 281.61 L368.56 281.37 L368.94 281.13 L369.33 280.89 L369.71 280.65 L370.09 280.41 L370.47 280.16 L370.85 279.91 L371.23 279.66 L371.61 279.41 L371.99 279.16 L372.37 278.91 L372.75 278.65 L373.13 278.39 L373.51 278.13 L373.89 277.87 L374.28 277.61 L374.66 277.35 L375.04 277.08 L375.42 276.82 L375.8 276.55 L376.18 276.28 L376.56 276.02 L376.94 275.75 L377.32 275.48 L377.7 275.21 L378.08 274.94 L378.46 274.66 L378.84 274.39 L379.23 274.12 L379.61 273.85 L379.99 273.57 L380.37 273.3 L380.75 273.02 L381.13 272.75 L381.51 272.57 L381.89 272.57 L382.27 272.57 L382.65 272.57 L383.03 272.57 L383.41 272.57 L383.79 272.57 L384.18 272.57 L384.56 272.57 L384.94 272.57 L385.32 272.57 L385.7 272.57 L386.08 272.57 L386.46 272.57 L386.84 272.57 L387.22 272.57 L387.6 272.57 L387.98 272.57 L388.36 272.57 L388.74 272.57 L389.13 272.57 L389.51 272.57 L389.89 272.57 L390.27 272.57 L390.65 272.57 L391.03 272.57 L391.41 272.57 L391.79 272.57 L392.17 272.57 L392.55 272.57 L392.93 272.57 L393.31 272.57 L393.69 272.57 L394.08 272.57 L394.46 272.57 L394.84 272.57 L395.22 272.57 L395.6 272.57 L395.98 272.57 L396.36 272.57 L396.74 272.57 L397.12 272.57 L397.5 272.57 L397.88 272.57 L398.26 272.57 L398.64 272.57 L399.03 272.57 L399.41 272.57 L399.79 272.57 L400.17 272.57 L400.55 272.57 L400.93 272.57 L401.31 272.57 L401.69 272.57 L402.07 272.57 L402.45 272.57 L402.83 272.57 L403.21 272.57 L403.59 272.57 L403.98 272.57 L404.36 272.57 L404.74 272.57 L405.12 272.57 L405.5 272.57 L405.88 272.57 L406.26 272.57 L406.64 272.57 L407.02 272.57 L407.4 272.57 L407.78 272.57 L408.16 272.57 L408.55 272.57 L408.93 272.57 L409.31 272.57 L409.69 272.57 L410.07 272.57 L410.45 272.57 L410.83 272.57 L411.21 272.57 L411.59 272.57 L411.97 272.57 L412.35 272.57 L412.73 272.57 L413.11 272.57 L413.5 272.57 L413.88 272.57 L414.26 272.57 L414.64 272.57 L415.02 272.57 L415.4 272.57 L415.78 272.57 L416.16 272.57 L416.54 272.57 L416.92 272.57 L417.3 272.57 L417.68 272.57 L418.06 272.57 L418.45 272.57 L418.83 272.57 L419.21 272.57 L419.59 272.57 L419.97 272.57 L420.35 272.57 L420.73 272.57 L421.11 272.57 L421.49 272.57 L421.87 272.57 L422.25 272.57 L422.63 272.57 L423.01 272.57 L423.4 272.57 L423.78 272.57 L424.16 272.57 L424.54 272.57 L424.92 272.57 L425.3 272.57 L425.68 272.57 L426.06 272.57 L426.44 272.57 L426.82 272.57 L427.2 272.57 L427.58 272.57 L427.96 272.57 L428.35 272.57 L428.73 272.57 L429.11 272.57 L429.49 272.57 L429.87 272.57 L430.25 272.57 L430.63 272.57 L431.01 272.57 L431.39 272.57 L431.77 272.57 L432.15 272.57 L432.53 272.57 L432.91 272.57 L433.3 272.57 L433.68 272.57 L434.06 272.57 L434.44 272.57 L434.82 272.57 L435.2 272.57 L435.58 272.57 L435.96 272.57 L436.34 272.57 L436.72 272.57 L437.1 272.57 L437.48 272.57 L437.86 272.57 L438.25 272.57 L438.63 272.57 L439.01 272.57 L439.39 272.57 L439.77 272.57 L440.15 272.57 L440.53 272.57 L440.91 272.57 L441.29 272.57 L441.67 272.57 L442.05 272.57 L442.43 272.57 L442.81 272.57 L443.2 272.57 L443.58 272.57 L443.96 272.57 L444.34 272.57 L444.72 272.57 L445.1 272.57 L445.48 272.57 L445.86 272.57 L446.24 272.57 L446.62 272.57 L447 272.57 L447.38 272.57 L447.76 272.57 L448.15 272.57 L448.53 272.57 L448.91 272.57 L449.29 272.57 L449.67 272.57 L450.05 272.57 L450.43 272.57 L450.81 272.57 L451.19 272.57 L451.57 272.57 L451.95 272.57 L452.33 272.57 L452.71 272.57 L453.1 272.57 L453.48 272.57 L453.86 272.57 L454.24 272.57 L454.62 272.57 L455 272.57 L455.38 272.57 L455.76 272.57 L456.14 272.57 L456.52 272.57 L456.9 272.57 L457.28 272.57 L457.66 272.72 L458.05 272.99 L458.43 273.27 L458.81 273.54 L459.19 273.81 L459.57 274.09 L459.95 274.36 L460.33 274.63 L460.71 274.91 L461.09 275.18 L461.47 275.45 L461.85 275.72 L462.23 275.99 L462.61 276.25 L463 276.52 L463.38 276.79 L463.76 277.05 L464.14 277.32 L464.52 277.58 L464.9 277.84 L465.28 278.1 L465.66 278.36 L466.04 278.62 L466.42 278.88 L466.8 279.13 L467.18 279.38 L467.56 279.64 L467.95 279.89 L468.33 280.13 L468.71 280.38 L469.09 280.62 L469.47 280.87 L469.85 281.11 L470.23 281.34 L470.61 281.58 L470.99 281.81 L471.37 282.04 L471.75 282.27 L472.13 282.5 L472.51 282.72 L472.9 282.95 L473.28 283.16 L473.66 283.38 L474.04 283.59 L474.42 283.81 L474.8 284.01 L475.18 284.22 L475.56 284.42 L475.94 284.62 L476.32 284.82 L476.7 285.01 L477.08 285.2 L477.46 285.39 L477.85 285.57 L478.23 285.75 L478.61 285.93 L478.99 286.11 L479.37 286.28 L479.75 286.45 L480.13 286.61 L480.51 286.77 L480.89 286.93 L481.27 287.08 L481.65 287.23 L482.03 287.38 L482.41 287.52 L482.8 287.66 L483.18 287.8 L483.56 287.93 L483.94 288.06 L484.32 288.18 L484.7 288.3 L485.08 288.42 L485.46 288.53 L485.84 288.64 L486.22 288.74 L486.6 288.84 L486.98 288.94 L487.36 289.03 L487.75 289.12 L488.13 289.2 L488.51 289.28 L488.89 289.36 L489.27 289.43 L489.65 289.5 L490.03 289.56 L490.41 289.62 L490.79 289.68 L491.17 289.73 L491.55 289.77 L491.93 289.82 L492.31 289.86 L492.7 289.89 L493.08 289.92 L493.46 289.94 L493.84 289.97 L494.22 289.98 L494.6 289.99 L494.98 290 L495.36 290.01 L495.74 290.01 L496.12 290 L496.5 289.99 L496.88 289.98 L497.26 289.96 L497.65 289.94 L498.03 289.91 L498.41 289.88 L498.79 289.85 L499.17 289.81 L499.55 289.76 L499.93 289.72 L500.31 289.67 L500.69 289.61 L501.07 289.55 L501.45 289.48 L501.83 289.42 L502.21 289.34 L502.6 289.27 L502.98 289.18 L503.36 289.1 L503.74 289.01 L504.12 288.92 L504.5 288.82 L504.88 288.72 L505.26 288.61 L505.64 288.5 L506.02 288.39 L506.4 288.27 L506.78 288.15 L507.16 288.03 L507.55 287.9 L507.93 287.77 L508.31 287.63 L508.69 287.49 L509.07 287.35 L509.45 287.2 L509.83 287.05 L510.21 286.89 L510.59 286.73 L510.97 286.57 L511.35 286.41 L511.73 286.24 L512.11 286.07 L512.5 285.89 L512.88 285.71 L513.26 285.53 L513.64 285.35 L514.02 285.16 L514.4 284.97 L514.78 284.77 L515.16 284.58 L515.54 284.38 L515.92 284.17 L516.3 283.97 L516.68 283.76 L517.07 283.55 L517.45 283.33 L517.83 283.12 L518.21 282.9 L518.59 282.67 L518.97 282.45 L519.35 282.22 L519.73 281.99 L520.11 281.76 L520.49 281.53 L520.87 281.29" fill="none" stroke="#008000" stroke-width="1.8" stroke-linejoin="round" stroke-linecap="square"/>
</g>
<rect x="41.5" y="253.4" width="502.2" height="38.35" fill="none" stroke="#000" stroke-width="0.95"/>
<path d="M64.33 291.75 v3.9 M124.88 291.75 v3.9 M185.43 291.75 v3.9 M245.98 291.75 v3.9 M306.53 291.75 v3.9 M367.08 291.75 v3.9 M427.63 291.75 v3.9 M488.19 291.75 v3.9 M41.5 290.01 h-3.9 M41.5 272.57 h-3.9 M41.5 255.14 h-3.9" stroke="#000" stroke-width="0.95" fill="none"/>
<text x="33.6" y="295.01" text-anchor="end" class="tk">−1</text>
<text x="33.6" y="277.57" text-anchor="end" class="tk">0</text>
<text x="33.6" y="260.14" text-anchor="end" class="tk">1</text>
<text transform="translate(10 273.57) rotate(-90)" text-anchor="middle" class="pu">P.U.</text>
<clipPath id="c4"><rect x="41.5" y="322.35" width="502.2" height="38.35"/></clipPath>
<path d="M64.33 322.35 V360.7 M124.88 322.35 V360.7 M185.43 322.35 V360.7 M245.98 322.35 V360.7 M306.53 322.35 V360.7 M367.08 322.35 V360.7 M427.63 322.35 V360.7 M488.19 322.35 V360.7 M41.5 358.96 H543.7 M41.5 324.09 H543.7" stroke="#b0b0b0" stroke-width="0.95" fill="none"/>
<g clip-path="url(#c4)">
<path d="M64.33 358.96 L520.87 358.96" fill="none" stroke="#ff0000" stroke-width="1.8" stroke-linejoin="round" stroke-linecap="square"/>
<path d="M64.33 358.96 L243 358.96 L243 324.09 L520.87 324.09" fill="none" stroke="#0000ff" stroke-width="1.8" stroke-linejoin="round" stroke-linecap="square"/>
<path d="M64.33 358.96 L267.54 358.96 L267.54 324.09 L520.87 324.09" fill="none" stroke="#008000" stroke-width="1.8" stroke-linejoin="round" stroke-linecap="square"/>
</g>
<rect x="41.5" y="322.35" width="502.2" height="38.35" fill="none" stroke="#000" stroke-width="0.95"/>
<path d="M64.33 360.7 v3.9 M124.88 360.7 v3.9 M185.43 360.7 v3.9 M245.98 360.7 v3.9 M306.53 360.7 v3.9 M367.08 360.7 v3.9 M427.63 360.7 v3.9 M488.19 360.7 v3.9 M41.5 358.96 h-3.9 M41.5 324.09 h-3.9" stroke="#000" stroke-width="0.95" fill="none"/>
<text x="33.6" y="363.76" text-anchor="end" class="tk">0</text>
<text x="33.6" y="328.89" text-anchor="end" class="tk">1</text>
<text x="64.33" y="378" text-anchor="middle" class="tk">0.0</text>
<text x="124.88" y="378" text-anchor="middle" class="tk">2.5</text>
<text x="185.43" y="378" text-anchor="middle" class="tk">5.0</text>
<text x="245.98" y="378" text-anchor="middle" class="tk">7.5</text>
<text x="306.53" y="378" text-anchor="middle" class="tk">10.0</text>
<text x="367.08" y="378" text-anchor="middle" class="tk">12.5</text>
<text x="427.63" y="378" text-anchor="middle" class="tk">15.0</text>
<text x="488.19" y="378" text-anchor="middle" class="tk">17.5</text>
<text x="293.1" y="240.6" text-anchor="middle" class="xl">Phase-Phase Voltage in 6 Segments state in Vab (U), Vbc (V), Vca (W)</text>
<text x="293.3" y="309.7" text-anchor="middle" class="xl">Phase Current in U, V, W</text>
<text x="293.1" y="394.4" text-anchor="middle" class="xl">(Radian)</text>
<text x="295.1" y="407.6" text-anchor="middle" class="xl">Neural Network's Output</text>
<text x="271.2" y="16" text-anchor="middle" class="tt">Characteristc of the Phase-to-Phase Voltage, Phase Current</text>
<text x="270.95" y="32.2" text-anchor="middle" class="tt">and Deep Learning Output in Two Phase Fault Conditions</text>
<text x="273.45" y="48.4" text-anchor="middle" class="tt">(eg: Phase V: High-Side Gate Fault</text>
<text x="275.2" y="64.6" text-anchor="middle" class="tt">&amp; Phase W: High-Side Gate Fault)</text>
<rect x="491.4" y="3" width="55" height="54.8" rx="2.4" fill="#fff" fill-opacity="0.8" stroke="#cccccc" stroke-width="0.95"/>
<path d="M495.8 12.4 H521" stroke="#ff0000" stroke-width="1.8" stroke-linecap="butt"/>
<text x="530.1" y="16.7" class="lg">U</text>
<path d="M495.8 29.8 H521" stroke="#0000ff" stroke-width="1.8" stroke-linecap="butt"/>
<text x="530.1" y="34.1" class="lg">V</text>
<path d="M495.8 47.1 H521" stroke="#008000" stroke-width="1.8" stroke-linecap="butt"/>
<text x="530.1" y="51.4" class="lg">W</text>
</svg>
</body></html>
